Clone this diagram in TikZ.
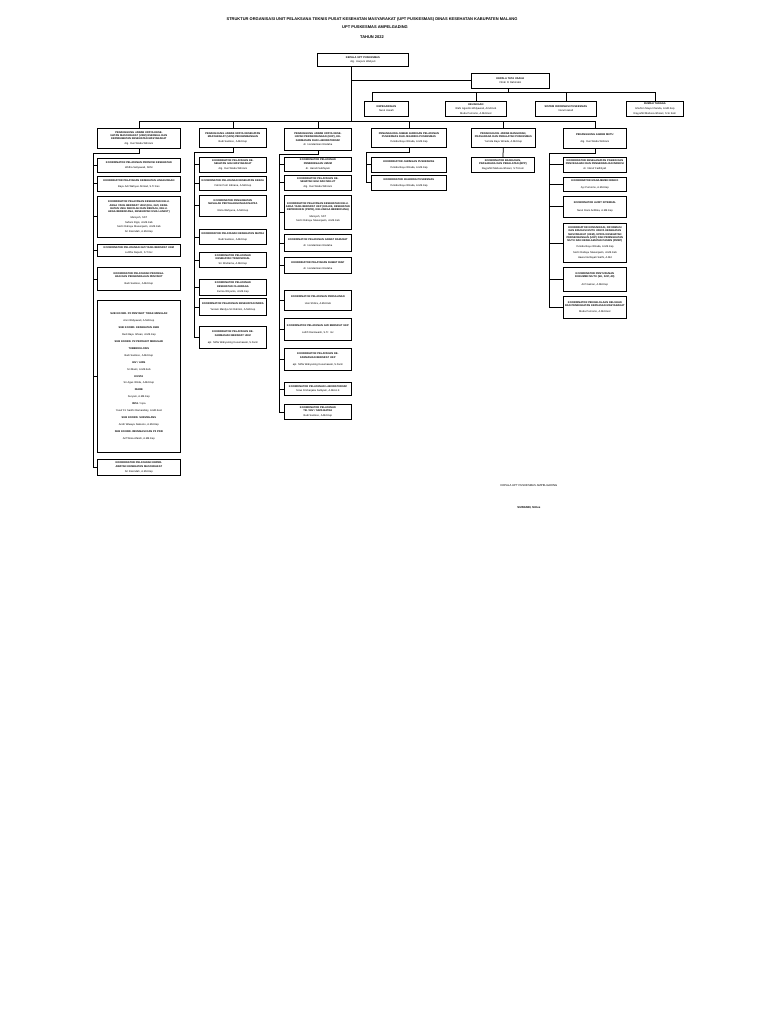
\documentclass[tikz,border=0pt]{standalone}
\usepackage{fontspec}
\setmainfont{Liberation Sans}
\tikzset{
  bx/.style={draw, line width=0.75pt, anchor=north west, inner sep=0.4pt, align=center, font=\fontsize{2.6}{3.3}\selectfont},
  ln/.style={line width=0.75pt},
  ttl/.style={font=\bfseries\fontsize{4}{4.6}\selectfont, inner sep=0pt},
  sgt/.style={font=\fontsize{2.8}{3.4}\selectfont, inner sep=0pt},
}
\newcommand\obox[6]{%
  \pgfmathsetmacro\obw{#4-#2}\pgfmathsetmacro\obh{#5-#3}\pgfmathsetmacro\otw{#4-#2-3}%
  \node[bx, minimum width=\obw pt, minimum height=\obh pt, text width=\otw pt] (#1) at (#2,#3) {#6};}
\newcommand\tb[1]{\textbf{#1}}
\begin{document}
\begin{tikzpicture}[x=1pt,y=-1pt]
\useasboundingbox[fill=white] (0,0) rectangle (768,1024);
% titles
\node[ttl] (t1) at (372,19) {STRUKTUR ORGANISASI UNIT PELAKSANA TEKNIS PUSAT KESEHATAN MASYARAKAT (UPT PUSKESMAS) DINAS KESEHATAN KABUPATEN MALANG};
\node[ttl] (t2) at (375,27.5) {UPT PUSKESMAS AMPELGADING};
\node[ttl] (t3) at (372,37) {TAHUN 2022};
% top
\obox{kep}{317}{53}{408}{66}{\tb{KEPALA UPT PUSKESMAS}\\[0.8pt] drg. Haryuni Wahyuti}
\obox{tu}{471}{73}{549}{88}{\tb{KEPALA TATA USAHA}\\[0.8pt] Fitrah Fi Rahmatin}
\obox{peg}{364}{101}{408}{116}{\tb{KEPEGAWAIAN}\\[1pt] Nurul Hanafi\\[3pt]}
\obox{keu}{445}{101}{506}{116}{\tb{KEUANGAN}\\[1pt] Wahi Agustini Widyawati, Amd.Keb\\[1.5pt] Moda Purnomo, A.Md.Kesl}
\obox{sim}{535}{101}{596}{116}{\tb{SISTEM INFORMASI PUSKESMAS}\\[1pt] Nurul Hanafi\\[3pt]}
\obox{rt}{626}{101}{683}{116}{\tb{RUMAH TANGGA}\\[1pt] Ghufron Mayu Irhanda, A.Md.Kep\\[1.5pt] Rayyahtil Mahusa Ikhsani, S.Si Kom}
% headers
\obox{h1}{97}{128}{180}{148}{\tb{PENANGGUNG JAWAB UPAYA KESEHATAN MASYARAKAT (UKM) ESENSIAL DAN KEPERAWATAN KESEHATAN MASYARAKAT}\\[1.5pt] drg. Dwi Wisda Wihirani}
\obox{h2}{199}{128}{266}{147}{\tb{PENANGGUNG JAWAB UPAYA KESEHATAN MASYARAKAT (UKM) PENGEMBANGAN}\\[1.5pt] Budi Santoso, A.Md.Kep}
\obox{h3}{284}{128}{351}{150}{\tb{PENANGGUNG JAWAB UPAYA KESEHATAN PERSEORANGAN (UKP), KEFARMASIAN DAN LABORATORIUM}\\[1.5pt] dr. Hendarmien Risdaha}
\obox{h4}{371}{128}{446}{147}{\tb{PENANGGUNG JAWAB JARINGAN PELAYANAN PUSKESMAS DAN JEJARING PUSKESMAS}\\[2pt] Yumida Bayu Wirada, A.Md.Kep}
\obox{h5}{471}{128}{535}{147}{\tb{PENANGGUNG JAWAB BANGUNAN, PRASARANA DAN PERALATAN PUSKESMAS}\\[2pt] Yumida Bayu Wirada, A.Md.Kep}
\obox{h6}{563}{128}{626}{148}{\tb{PENANGGUNG JAWAB MUTU}\\[4pt] drg. Dwi Wisda Wihirani}
% column 1
\obox{a1}{97}{158}{180}{172}{\tb{KOORDINATOR PELAYANAN PROMOSI KESEHATAN}\\[2.5pt] Widha Setiyawati, SKM}
\obox{a2}{97}{176}{180}{191}{\tb{KOORDINATOR PELAYANAN KESEHATAN LINGKUNGAN}\\[2.5pt] Bayu Adi Wahyuo Ahmad, S.Tr.Kes}
\obox{a3}{97}{196}{180}{237}{\tb{KOORDINATOR PELAYANAN KESEHATAN KELUARGA YANG BERSIFAT UKM (KIA, GIZI, KESEHATAN USIA SEKOLAH DAN REMAJA, KELUARGA BERENCANA, KESEHATAN USIA LANJUT)}\\[2.5pt] Marsyeh, SST\\[1.2pt] Sufiani Rigis, A.Md.Keb\\[1.2pt] Sochi Rahayu Masunjaetn, A.Md.Keb\\[1.2pt] Sri Rosindah, A.Md.Kep}
\obox{a4}{97}{244}{180}{256}{\tb{KOORDINATOR PELAYANAN GIZI YANG BERSIFAT UKM}\\[1.5pt] Luthfia Daputri, S.Tr.Gz}
\obox{a5}{97}{267}{180}{290}{\tb{KOORDINATOR PELAYANAN PENCEGAHAN DAN PENGENDALIAN PENYAKIT}\\[4pt] Budi Santoso, A.Md.Kep}
\obox{a6}{97}{300}{180}{452}{\tb{SUB KOORD. P2 PENYAKIT TIDAK MENULAR}\\[3.6pt] Anni Widyawati, A.Md.Kep\\[3.6pt] \tb{SUB KOORD. KESEHATAN JIWA}\\[3.6pt] Rudi Bayu Ikhsan, A.Md.Kep\\[3.6pt] \tb{SUB KOORD. P2 PENYAKIT MENULAR}\\[3.6pt] \tb{TUBERKULOSIS}\\[3.6pt] Budi Santoso, A.Md.Kep\\[3.6pt] \tb{HIV / AIDS}\\[3.6pt] Sri Mami, A.Md.Keb\\[3.6pt] \tb{KUSTA}\\[3.6pt] Sri Agus Wirda, A.Md.Kep\\[3.6pt] \tb{DIARE}\\[3.6pt] Suryani, A.Md.Kep\\[3.6pt] \tb{ISPA} / Ispa\\[3.6pt] Yusuf Fir Santhi Ramandaty, A.Md.Kesl\\[3.6pt] \tb{SUB KOORD. SURVEILANS}\\[3.6pt] Andri Wiwaya Saksono, A.Md.Kep\\[3.6pt] \tb{SUB KOORD. IMUNISASI DAN P3 PD3I}\\[3.6pt] Arif Wisa Afandi, A.Md.Kep}
\obox{a7}{97}{459}{180}{475}{\tb{KOORDINATOR PELAYANAN KEPERAWATAN KESEHATAN MASYARAKAT}\\[1.5pt] Sri Rosindah, A.Md.Kep}
% column 2
\obox{b1}{199}{157}{266}{172}{\tb{KOORDINATOR PELAYANAN KESEHATAN GIGI MASYARAKAT}\\[2pt] drg. Dwi Wisda Wihirani}
\obox{b2}{199}{176}{266}{190}{\tb{KOORDINATOR PELAYANAN KESEHATAN KERJA}\\[2pt] Fahmi Putri Indriana, A.Md.Kep}
\obox{b3}{199}{195}{266}{216}{\tb{KOORDINATOR PENGOBATAN MASALAH PENYALAHGUNAAN NAPZA}\\[4pt] Rista Wahyuna, A.Md.Kep}
\obox{b4}{199}{229}{266}{244}{\tb{KOORDINATOR PELAYANAN KESEHATAN MATRA}\\[2pt] Budi Santoso, A.Md.Kep}
\obox{b5}{199}{252}{266}{267}{\tb{KOORDINATOR PELAYANAN KESEHATAN TRADISIONAL}\\[2pt] Sri Rindrama, A.Md.Kep}
\obox{b6}{199}{279}{266}{295}{\tb{KOORDINATOR PELAYANAN KESEHATAN OLAHRAGA}\\[2pt] Kurnia Wiryanto, A.Md.Kep}
\obox{b7}{199}{298}{266}{315}{\tb{KOORDINATOR PELAYANAN KESEHATAN INDRA}\\[2pt] Yuniani Mardya Sri Rahmin, A.Md.Kep}
\obox{b8}{199}{326}{266}{348}{\tb{KOORDINATOR PELAYANAN KEFARMASIAN BERSIFAT UKM}\\[4pt] apt. Mifta Wahyuning Kusumawati, S.Farm}
% column 3
\obox{c1}{284}{157}{351}{171}{\tb{KOORDINATOR PELAYANAN PEMERIKSAAN UMUM}\\[2pt] dr. Harsdi Subhiyani}
\obox{c2}{284}{175}{351}{190}{\tb{KOORDINATOR PELAYANAN KESEHATAN GIGI DAN MULUT}\\[2pt] drg. Dwi Wisda Wihirani}
\obox{c3}{284}{195}{351}{229}{\tb{KOORDINATOR PELAYANAN KESEHATAN KELUARGA YANG BERSIFAT UKP (KIA-KB, KESEHATAN REPRODUKSI (PKPR), KELUARGA BERENCANA)}\\[3pt] Marsyeh, SST\\[1.5pt] Sochi Rahayu Masunjaetn, A.Md.Keb}
\obox{c4}{284}{234}{351}{251}{\tb{KOORDINATOR PELAYANAN GAWAT DARURAT}\\[3pt] dr. Hendarmien Risdaha}
\obox{c5}{284}{257}{351}{273}{\tb{KOORDINATOR PELAYANAN RAWAT INAP}\\[3pt] dr. Hendarmien Risdaha}
\obox{c6}{284}{290}{351}{310}{\tb{KOORDINATOR PELAYANAN PERSALINAN}\\[4pt] Ussi Shilira, A.Md.Keb}
\obox{c7}{284}{318}{351}{340}{\tb{KOORDINATOR PELAYANAN GIZI BERSIFAT UKP}\\[4pt] Luthfi Daniswanti, S.Tr. Gz}
\obox{c8}{284}{348}{351}{370}{\tb{KOORDINATOR PELAYANAN KEFARMASIAN BERSIFAT UKP}\\[4pt] apt. Mifta Wahyuning Kusumawati, S.Farm}
\obox{c9}{284}{382}{351}{395}{\tb{KOORDINATOR PELAYANAN LABORATORIUM}\\[1.5pt] Siswi Frisharjaka Sattiyam, A.Md.A.K}
\obox{c10}{284}{404}{351}{419}{\tb{KOORDINATOR PELAYANAN TB / HIV / SIMS BATRA}\\[1.5pt] Budi Santoso, A.Md.Kep}
% column 4
\obox{d1}{371}{157}{446}{172}{\tb{KOORDINATOR JARINGAN PUSKESMAS}\\[2.5pt] Yumida Bayu Wirada, A.Md.Kep}
\obox{d2}{371}{175}{446}{190}{\tb{KOORDINATOR JEJARING PUSKESMAS}\\[2.5pt] Yumida Bayu Wirada, A.Md.Kep}
% column 5
\obox{e1}{471}{157}{534}{172}{\tb{KOORDINATOR BANGUNAN, PRASARANA DAN PERALATAN (BPP)}\\[2pt] Rayyahtil Mahusa Ikhsani, S.Tr.Kom}
% column 6
\obox{f1}{563}{157}{626}{172}{\tb{KOORDINATOR KESELAMATAN PASIEN DAN PENCEGAHAN DAN PENGENDALIAN INFEKSI}\\[2pt] dr. Nisruf Fadhilyah}
\obox{f2}{563}{177}{626}{191}{\tb{KOORDINATOR MANAJEMEN RISIKO}\\[3pt] Ayi Purnomo, A.Md.Kep}
\obox{f3}{563}{196}{626}{217}{\tb{KOORDINATOR AUDIT INTERNAL}\\[5pt] Nurul Diani Ardhika, A.Md.Kep}
\obox{f4}{563}{223}{626}{262}{\tb{KOORDINATOR KOMUNIKASI, INFORMASI DAN EDUKASI MUTU UPAYA KESEHATAN MASYARAKAT (UKM), UPAYA KESEHATAN PERSEORANGAN (UKP) DAN PENINGKATAN MUTU DAN KESELAMATAN PASIEN (PMKP)}\\[3pt] Yumida Bayu Wirada, A.Md.Kep\\[2pt] Sochi Rahayu Masunjaetn, A.Md.Keb\\[2pt] Hawa Nurhayati Saithi, A.Md}
\obox{f5}{563}{267}{626}{291}{\tb{KOORDINATOR PENYUSUNAN DOKUMEN MUTU (SK, SOP, dll)}\\[5pt] Arif Gaman, A.Md.Kep}
\obox{f6}{563}{296}{626}{318}{\tb{KOORDINATOR PENGELOLAAN KELUHAN DAN PENINGKATAN KEPUASAN MASYARAKAT}\\[3pt] Moda Purnomo, A.Md.Kesl}
% signature
\node[sgt] (sig) at (529,486) {KEPALA UPT PUSKESMAS AMPELGADING};
\node[sgt] (sgn) at (529,508) {\tb{SUWANDI, M.Kes}};
% connectors top
\coordinate (kv) at (351,121);
\draw[ln] (kv |- kep.south) -- (kv);
\draw[ln] (kv |- tu.west) -- (tu.west);
\coordinate (tbus) at (508,92);
\draw[ln] (tbus |- tu.south) -- (tbus);
\coordinate (pd) at (372,92);
\draw[ln] (pd |- peg.north) -- (pd) -- (rt.north |- tbus) -- (rt.north);
\foreach \n in {keu,sim} \draw[ln] (\n.north) -- (\n.north |- tbus);
\draw[ln] (h1.north) |- (h6.north |- kv) -- (h6.north);
\foreach \n in {h2,h3,h4,h5} \draw[ln] (\n.north) -- (\n.north |- kv);
% column 1
\coordinate (v1) at (93,153);
\draw[ln] (h1.south) |- (v1) |- (a7.west);
\foreach \n in {a1,a2,a3,a4,a5,a6} \draw[ln] (\n.west) -- (\n.west -| v1);
% column 2
\coordinate (v2) at (194,152);
\draw[ln] (h2.south) |- (v2) |- (b8.west);
\foreach \n in {b1,b2,b3,b4,b5,b6,b7} \draw[ln] (\n.west) -- (\n.west -| v2);
% column 3
\coordinate (v3) at (279,154);
\draw[ln] (h3.south) |- (v3) |- (c10.west);
\foreach \n in {c1,c2,c3,c4,c5,c6,c7,c8,c9} \draw[ln] (\n.west) -- (\n.west -| v3);
% column 4
\coordinate (v4) at (366,152);
\draw[ln] (h4.south) |- (v4) |- (d2.west);
\draw[ln] (d1.west) -- (d1.west -| v4);
% column 5
\draw[ln] (h5.south) -- (e1.north);
% column 6
\coordinate (v6) at (549,153);
\draw[ln] (h6.south) |- (v6) |- (f6.west);
\foreach \n in {f1,f2,f3,f4,f5} \draw[ln] (\n.west) -- (\n.west -| v6);
\end{tikzpicture}
\end{document}
